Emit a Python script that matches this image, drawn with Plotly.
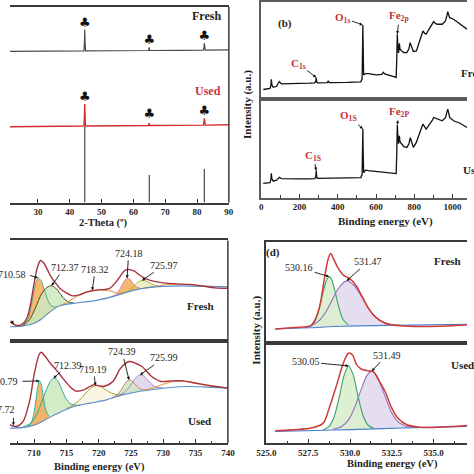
import plotly.graph_objects as go

W = H = 474
FONT = "Liberation Serif"
AXC = "#3a3a3a"
AXB = "#5c5c5c"
TXT = "#1e1e1e"
RED = "#c8323c"

# ---------------- (a) XRD ----------------
xrd_theta = [21.2, 30, 40, 44.45, 44.6, 44.7, 44.8, 44.95, 55, 64.75, 64.95, 65.15, 75, 82.0, 82.15, 82.3, 82.45, 82.6, 90]
xrd_fresh = [151.5, 151.7, 151.8, 152, 160, 173.5, 160, 152, 152.2, 152.4, 155.5, 152.4, 152.5, 152.7, 155.5, 159.5, 155.5, 152.7, 153]
xrd_used = [76, 76.2, 76.5, 76.7, 86, 98.7, 86, 76.7, 77, 77.2, 79.5, 77.2, 77.4, 77.6, 80.5, 84.3, 80.5, 77.6, 78]
ref_theta = [44.7, 65.0, 82.3]
ref_height = [76, 27.7, 33.7]
club_fresh = [179.3, 162, 166]
club_used = [104.7, 87.7, 91]

# ---------------- (b) XPS survey ----------------
sv_fresh_e = [10, 30, 45, 50, 52, 55, 62, 80, 94, 105, 150, 200, 250, 280, 285, 287, 290, 295, 345, 350, 355, 450, 520,
              527, 529, 531, 532, 535, 545, 560, 600, 630, 638, 645, 690, 705, 708, 711, 714, 717, 719, 722, 725, 733,
              745, 761, 772, 778, 786, 795, 811, 822, 837, 845, 855, 862, 875, 887, 901, 910, 921, 946, 963, 970, 975,
              980, 985, 1005, 1039, 1076]
sv_fresh_i = [9.8, 10.5, 10.8, 13.5, 20, 14.5, 12, 13, 17.8, 15.5, 15.5, 15.8, 16.2, 16.5, 18.5, 21.8, 17, 16.5, 16.8, 18.5,
              16.8, 17, 17.5, 20.5, 48.5, 74.5, 58.5, 24.5, 25.8, 25.8, 24.5, 25, 27, 25.5, 23, 22, 38.5, 65.2, 53.5, 46.5,
              48.5, 56, 50.5, 48.5, 46.8, 46.8, 50.5, 56.8, 51.5, 48, 48.5, 54.5, 63.5, 68.5, 66, 65.2, 69.5, 73.5, 77.8,
              76, 75.2, 75.2, 78.5, 83.5, 87.8, 84.5, 81.8, 80.2, 75.2, 70.2]
sv_used_e = [10, 30, 45, 50, 52, 55, 62, 80, 94, 105, 150, 200, 250, 280, 285, 287, 290, 295, 450, 520, 527, 529, 531, 532,
             535, 545, 560, 600, 650, 690, 705, 708, 711, 714, 717, 720, 722, 725, 733, 745, 761, 772, 779, 786, 795, 810,
             825, 837, 845, 862, 880, 893, 901, 921, 946, 963, 970, 975, 985, 1005, 1039, 1076]
sv_used_i = [14.3, 14.7, 15, 18, 24.3, 19, 16.5, 17.5, 20.3, 19, 18.7, 18.7, 18.8, 19, 21, 27, 20, 19.3, 19.8, 20, 23, 47,
             68.7, 52, 25, 27.5, 27, 26, 25, 24.3, 24, 42, 73, 62, 54, 57, 62, 56, 53.7, 51, 50.3, 54, 60, 55, 50.3, 55,
             63, 70.3, 73.7, 68.7, 73, 77, 80.3, 78.7, 77, 80, 85, 88.7, 80.3, 77, 74.5, 70.3]

# ---------------- (c) Fe 2p ----------------
c_bgF_x = [706.3, 708, 709, 710, 711, 712, 713, 714, 715, 716, 718, 720, 722, 724, 726, 728, 730, 733, 736, 740]
c_bgF_y = [14.5, 15, 16, 18, 21.5, 27, 32, 35.5, 37, 38, 39.5, 41.5, 44.5, 48.5, 52, 54, 55, 55.5, 55, 54.5]
c_envF_x = [706.3, 707.0, 707.8, 708.5, 709.0, 709.5, 710.0, 710.5, 711.0, 711.5, 712.0, 712.5, 713.0, 713.5, 714.0, 715.0,
            716.0, 717.0, 718.0, 719.0, 720.0, 721.0, 721.7, 722.5, 723.2, 723.8, 724.4, 725.0, 725.6, 726.2, 727.0,
            728.0, 729.0, 730.0, 732.0, 734.0, 736.0, 738.0, 740.0]
c_envF_y = [19.5, 16.5, 16, 19, 25, 39, 58, 74, 81, 78.5, 72.5, 66, 61, 57, 53, 48.5, 45.5, 46.5, 49, 50.5, 51.5, 52, 53,
            58, 64, 69.5, 72, 71.5, 70, 67, 63.5, 61, 59.5, 58.5, 57.5, 57, 55.5, 53.5, 53]
c_F0_x = [706.3, 706.8, 707.3, 707.8, 708.3]
c_F0_y = [19, 17.5, 15.8, 15.1, 15.1]
c_F1_x = [708.2, 709.0, 709.4, 709.8, 710.2, 710.6, 711.1, 711.6, 712.1, 712.6, 713.1, 713.6]
c_F1_y = [15.7, 21.9, 30.9, 44, 56.8, 63.6, 60.4, 51.2, 41.6, 35.9, 34.3, 34.6]
c_F2_x = [708.3, 709.3, 710.2, 711.2, 712.0, 712.7, 713.3, 714.0, 714.6, 715.3, 716.2]
c_F2_y = [15.5, 21.7, 33.3, 48, 54, 55.7, 53.5, 48, 43, 39.5, 38.2]
c_F3_x = [714.0, 715.0, 716.0, 717.0, 718.0, 719.0, 720.0, 721.0, 722.0, 723.0, 724.0]
c_F3_y = [35.8, 38.5, 42.5, 46.5, 49.5, 51, 51.5, 51, 50, 48, 48.7]
c_F4_x = [721.8, 722.6, 723.2, 723.7, 724.1, 724.4, 724.8, 725.3, 725.8, 726.5]
c_F4_y = [44.2, 46.8, 51.4, 57.4, 61.7, 63.2, 62.3, 58.2, 54.7, 52.9]
c_F5_x = [723.5, 724.5, 725.3, 726.0, 726.7, 727.4, 728.2, 729.0, 730.0]
c_F5_y = [47.6, 50.4, 54.5, 58.8, 61, 60.2, 57.5, 55.5, 55]
c_F6_x = [727, 729, 731, 733, 735, 737, 739, 740]
c_F6_y = [53.5, 55.3, 57, 57, 56.3, 55.2, 54.7, 54.6]

c_bgU_x = [706.3, 708.0, 709.3, 710.3, 711.25, 712.2, 713.2, 714.5, 716.2, 718.7, 721.2, 723.7, 726.2, 728.7, 731.2, 733.6, 736.1, 740]
c_bgU_y = [15, 15.5, 16.7, 18.5, 21.7, 25, 28.3, 32.5, 36.7, 40, 43.3, 48.3, 51.7, 54, 55.7, 56.7, 56.3, 55]
c_envU_x = [706.3, 707.3, 708.3, 709.3, 710.0, 710.75, 711.1, 711.7, 712.5, 713.2, 714.2, 715.5, 716.5, 717.7, 719.2,
            720.7, 722.2, 723.4, 724.7, 725.7, 726.7, 728.2, 729.7, 731.2, 733.1, 735.1, 737.1, 740]
c_envU_y = [18.3, 16.7, 21.7, 42, 68.3, 88.3, 91, 87, 80, 75, 67, 57, 52, 53.3, 58.3, 56.7, 61.7, 75, 81.7, 80, 76.7,
            66.7, 61.7, 62.3, 62.3, 60, 57.7, 55]
c_U0_x = [706.3, 706.8, 707.3, 707.8, 708.3]
c_U0_y = [17.8, 17, 16, 15.5, 15.6]
c_U1_x = [709.0, 709.5, 709.9, 710.3, 710.6, 710.85, 711.1, 711.4, 711.8, 712.3]
c_U1_y = [16.5, 19.3, 27.3, 44, 57.5, 62.3, 58.9, 47.8, 33.1, 26.6]
c_U2_x = [708.3, 709.3, 710.0, 710.7, 711.3, 711.9, 712.5, 713.0, 713.6, 714.2, 714.9, 715.6, 716.4, 717.2]
c_U2_y = [16.2, 19.3, 24.3, 33.2, 43.2, 53.5, 61.6, 65, 62.9, 54.9, 45, 39.5, 37.9, 38]
c_U3_x = [715.0, 716.0, 717.0, 718.0, 718.8, 719.5, 720.2, 721.0, 722.0, 723.0, 724.0]
c_U3_y = [34.3, 37.9, 42.9, 49.9, 55.3, 57.7, 57.2, 53.9, 49.9, 48.4, 49]
c_U4_x = [722.0, 722.8, 723.4, 723.9, 724.3, 724.7, 725.1, 725.6, 726.2, 727.0]
c_U4_y = [45.2, 48, 52.5, 57.8, 61.5, 63.3, 62.6, 59.3, 55.1, 53]
c_U5_x = [723.0, 724.0, 724.8, 725.5, 726.0, 726.4, 726.9, 727.5, 728.2, 729.0, 730.0]
c_U5_y = [47.3, 51.1, 56.7, 63.4, 67.1, 68.3, 67.4, 63.8, 59, 55.9, 55.2]
c_U6_x = [727.0, 728.5, 730.0, 731.5, 733.0, 734.5, 736.0, 738.0, 740.0]
c_U6_y = [53, 55.5, 59, 61.5, 62, 60.5, 58.5, 56.5, 55.3]

# ---------------- (d) O 1s ----------------
d_envF_x = [525.54, 526.7, 527.65, 527.9, 528.2, 528.5, 528.7, 528.85, 529.0, 529.3, 529.6, 529.96, 530.35, 530.73,
            531.1, 531.5, 532.1, 532.85, 534.4, 537]
d_envF_y = [14.3, 15.7, 17.7, 23.3, 38.3, 68.3, 85, 90, 85, 75, 68.3, 65, 58.3, 46.7, 35, 26.7, 20, 17.7, 16.7, 18.3]
d_bgF_x = [525.5, 527.5, 529.5, 531.5, 533.5, 537]
d_bgF_y = [14.3, 15.5, 17, 17.7, 18.2, 19]
d_gF_x = [527.6, 527.9, 528.15, 528.4, 528.6, 528.75, 528.9, 529.1, 529.35, 529.6, 529.9]
d_gF_y = [16.7, 22.2, 34.1, 51.7, 63.6, 66.8, 63.8, 52.1, 34.9, 23.3, 18.4]
d_pF_x = [527.3, 527.6, 528.1, 528.5, 528.9, 529.3, 529.8, 530.3, 530.8, 531.3, 531.8, 532.4, 533.0]
d_pF_y = [15.4, 17.1, 21.9, 30.1, 42.3, 54.9, 62.5, 56.9, 43.6, 30.7, 22.7, 19, 18.1]

d_envU_x = [525.54, 527.65, 528.4, 528.75, 529.2, 529.6, 529.9, 530.15, 530.4, 530.7, 531.1, 531.4, 531.65, 532.1,
            532.45, 532.85, 533.4, 534.4, 537]
d_envU_y = [12.3, 15, 20, 35, 58.3, 80, 90, 88.3, 78.3, 74, 72.3, 71.7, 65, 51.7, 36.7, 25, 18.3, 15.7, 17.7]
d_bgU_x = [525.5, 528, 530, 532, 534, 537]
d_bgU_y = [11.7, 12.6, 13.5, 14.5, 15.5, 16.7]
d_gU_x = [528.4, 528.75, 529.05, 529.35, 529.65, 529.92, 530.2, 530.5, 530.8, 531.1, 531.45]
d_gU_y = [13.3, 16.7, 26.3, 45.6, 68.1, 77.3, 67.8, 45.3, 26.7, 17.6, 14.7]
d_pU_x = [529.0, 529.5, 529.9, 530.3, 530.7, 531.0, 531.3, 531.6, 532.0, 532.4, 532.8, 533.3, 533.9]
d_pU_y = [13.9, 16.5, 23, 36.6, 55.3, 67.3, 72.1, 67.6, 51.3, 33.7, 22.4, 17, 15.9]


# ---------------- geometry of the panels ----------------
def px(x):
    return x / W


def py(y):
    return 1 - y / H


AX = {
    "x": ([0, px(227)], [21.2, 90]),
    "y": ([py(202), py(6)], [0, 196]),
    "x2": ([px(260.7), 1], [0, 1075.6]),
    "y2": ([py(98.5), py(1.2)], [0, 97.3]),
    "x3": ([px(260.7), 1], [0, 1075.6]),
    "y3": ([py(197), py(98.5)], [0, 98.5]),
    "x4": ([0, px(226)], [706.27, 740]),
    "y4": ([py(341), py(240)], [0, 101]),
    "x5": ([0, px(226)], [706.27, 740]),
    "y5": ([py(443), py(341)], [0, 102]),
    "x6": ([px(266), 1], [525, 537]),
    "y6": ([py(343), py(242)], [0, 101]),
    "x7": ([px(266), 1], [525, 537]),
    "y7": ([py(443), py(343)], [0, 100]),
}

fig = go.Figure()


def line(x, y, xa, ya, color, width=1.2, shape="linear"):
    fig.add_trace(go.Scatter(x=x, y=y, xaxis=xa, yaxis=ya, mode="lines",
                             line=dict(color=color, width=width, shape=shape, smoothing=0.8),
                             hoverinfo="skip", showlegend=False))


def band(xc, yc, xb, yb, xa, ya, color):
    lo, hi = xc[0], xc[-1]
    inner = [(a, b) for a, b in zip(xb, yb) if lo < a < hi]
    xs = list(xc) + [p[0] for p in reversed(inner)]
    ys = list(yc) + [p[1] for p in reversed(inner)]
    fig.add_trace(go.Scatter(x=xs, y=ys, xaxis=xa, yaxis=ya, mode="lines", fill="toself", fillcolor=color,
                             line=dict(width=0, shape="spline", smoothing=0.6),
                             hoverinfo="skip", showlegend=False))


# (a)
sx, sy = [], []
for t, h in zip(ref_theta, ref_height):
    sx += [t, t, None]
    sy += [0, h, None]
line(sx, sy, "x", "y", "#555555", 1.3)
line(xrd_theta, xrd_fresh, "x", "y", "#4a4a4a", 1.2)
line(xrd_theta, xrd_used, "x", "y", "#d42a30", 1.4)
for vals in (club_fresh, club_used):
    fig.add_trace(go.Scatter(x=ref_theta, y=vals, xaxis="x", yaxis="y", mode="text", text=["♣"] * 3,
                             textfont=dict(family="DejaVu Sans", size=13, color="#111111"),
                             hoverinfo="skip", showlegend=False))

# (b)
line(sv_fresh_e, sv_fresh_i, "x2", "y2", "#111111", 1.3)
line(sv_used_e, sv_used_i, "x3", "y3", "#111111", 1.3)

# (c) fresh
ORF = "rgba(244,170,85,0.85)"
GRF = "rgba(205,232,190,0.85)"
YLF = "rgba(232,236,190,0.85)"
PUF = "rgba(222,210,236,0.85)"
band(c_F1_x, c_F1_y, c_bgF_x, c_bgF_y, "x4", "y4", ORF)
band(c_F2_x, c_F2_y, c_bgF_x, c_bgF_y, "x4", "y4", GRF)
band(c_F5_x, c_F5_y, c_bgF_x, c_bgF_y, "x4", "y4", YLF)
band(c_F4_x, c_F4_y, c_bgF_x, c_bgF_y, "x4", "y4", ORF)
line(c_F0_x, c_F0_y, "x4", "y4", "#3a6ea0", 1, "spline")
line(c_F1_x, c_F1_y, "x4", "y4", "#5aa88a", 1, "spline")
line(c_F2_x, c_F2_y, "x4", "y4", "#4a4a2a", 1, "spline")
line(c_F3_x, c_F3_y, "x4", "y4", "#d9913a", 1, "spline")
line(c_F4_x, c_F4_y, "x4", "y4", "#d58ab8", 1, "spline")
line(c_F5_x, c_F5_y, "x4", "y4", "#b5b340", 1, "spline")
line(c_F6_x, c_F6_y, "x4", "y4", "#e0903a", 1, "spline")
line(c_bgF_x, c_bgF_y, "x4", "y4", "#5b8fc8", 1.1, "spline")
line(c_envF_x, c_envF_y, "x4", "y4", "#a8323e", 1.4, "spline")
# (c) used
band(c_U2_x, c_U2_y, c_bgU_x, c_bgU_y, "x5", "y5", GRF)
band(c_U1_x, c_U1_y, c_bgU_x, c_bgU_y, "x5", "y5", ORF)
band(c_U3_x, c_U3_y, c_bgU_x, c_bgU_y, "x5", "y5", "rgba(248,244,222,0.8)")
band(c_U5_x, c_U5_y, c_bgU_x, c_bgU_y, "x5", "y5", PUF)
band(c_U4_x, c_U4_y, c_bgU_x, c_bgU_y, "x5", "y5", GRF)
line(c_U0_x, c_U0_y, "x5", "y5", "#3a6ea0", 1, "spline")
line(c_U1_x, c_U1_y, "x5", "y5", "#2cb5a5", 1, "spline")
line(c_U2_x, c_U2_y, "x5", "y5", "#2aa890", 1, "spline")
line(c_U3_x, c_U3_y, "x5", "y5", "#a8a030", 1, "spline")
line(c_U4_x, c_U4_y, "x5", "y5", "#d07a6a", 1, "spline")
line(c_U5_x, c_U5_y, "x5", "y5", "#a486c8", 1, "spline")
line(c_U6_x, c_U6_y, "x5", "y5", "#e39040", 1, "spline")
line(c_bgU_x, c_bgU_y, "x5", "y5", "#5b8fc8", 1.1, "spline")
line(c_envU_x, c_envU_y, "x5", "y5", "#a8323e", 1.4, "spline")

# (d)
DGF = "rgba(218,238,205,0.9)"
DPF = "rgba(226,218,238,0.9)"
for (gx, gy, qx, qy, bx, by, ex, ey, xa, ya) in (
        (d_gF_x, d_gF_y, d_pF_x, d_pF_y, d_bgF_x, d_bgF_y, d_envF_x, d_envF_y, "x6", "y6"),
        (d_gU_x, d_gU_y, d_pU_x, d_pU_y, d_bgU_x, d_bgU_y, d_envU_x, d_envU_y, "x7", "y7")):
    band(qx, qy, bx, by, xa, ya, DPF)
    band(gx, gy, bx, by, xa, ya, DGF)
    line(qx, qy, xa, ya, "#9070b8", 1.1, "spline")
    line(gx, gy, xa, ya, "#3d9e6a", 1.1, "spline")
    line(bx, by, xa, ya, "#4a7fd0", 1.1, "spline")
    line(ex, ey, xa, ya, "#d03a36", 1.5, "spline")


# ---------------- axes ----------------
def xax(name, anchor, labels=True, dtick=None, tick0=None, minor=None, fmt=None, color=AXC, lw=1.5):
    dom, rng = AX[name]
    d = dict(domain=dom, range=rng, anchor=anchor, showline=True, mirror=True, linecolor=color, linewidth=lw,
             showgrid=False, zeroline=False, fixedrange=True)
    if labels:
        d.update(ticks="inside", ticklen=4, tickwidth=1, tickcolor=AXC, dtick=dtick, tick0=tick0,
                 tickfont=dict(family=FONT, size=9, color=TXT, weight="bold"))
        if fmt:
            d["tickformat"] = fmt
        if minor:
            d["minor"] = dict(dtick=minor, ticks="inside", ticklen=2.5, tickwidth=1, tickcolor=AXC, showgrid=False)
    else:
        d.update(showticklabels=False, ticks="")
    return d


def yax(name, anchor, left, color=AXC, lw=1.5):
    dom, rng = AX[name]
    return dict(domain=dom, range=rng, anchor=anchor, showline=left, mirror=False, linecolor=color, linewidth=lw,
                showticklabels=False, ticks="", showgrid=False, zeroline=False, fixedrange=True)


fig.update_layout(
    width=W, height=H, margin=dict(l=0, r=0, t=0, b=0), paper_bgcolor="white", plot_bgcolor="white",
    showlegend=False,
    xaxis=xax("x", "y", True, 10, 30),
    yaxis=yax("y", "x", False),
    xaxis2=xax("x2", "y2", False, color=AXB, lw=2),
    yaxis2=yax("y2", "x2", True, AXB, 2),
    xaxis3=xax("x3", "y3", True, 200, 0, 100, color=AXB, lw=2),
    yaxis3=yax("y3", "x3", True, AXB, 2),
    xaxis4=xax("x4", "y4", False),
    yaxis4=yax("y4", "x4", False),
    xaxis5=xax("x5", "y5", True, 5, 710, 2.5),
    yaxis5=yax("y5", "x5", False),
    xaxis6=xax("x6", "y6", False),
    yaxis6=yax("y6", "x6", True),
    xaxis7=xax("x7", "y7", True, 2.5, 525, 1.25, ".1f"),
    yaxis7=yax("y7", "x7", True),
)

# right frame edges for (a) and (c)
for xr, yr in (("x", "y"), ("x4", "y4"), ("x5", "y5")):
    fig.add_shape(type="line", xref=xr + " domain", yref=yr + " domain", x0=1, x1=1, y0=0, y1=1,
                  line=dict(color=AXC, width=1.5))

# ---------------- text ----------------
ann = []


def to_paper(xa, ya, x, y):
    (dx, rx), (dy, ry) = AX[xa], AX[ya]
    fx = dx[0] + (x - rx[0]) / (rx[1] - rx[0]) * (dx[1] - dx[0])
    fy = dy[0] + (y - ry[0]) / (ry[1] - ry[0]) * (dy[1] - dy[0])
    return fx, fy


def label(text, x, y, size=11, color=TXT, bold=True, xanchor="center", angle=0):
    ann.append(dict(text=text, xref="paper", yref="paper", x=px(x), y=py(y), showarrow=False,
                    xanchor=xanchor, yanchor="middle", textangle=angle,
                    font=dict(family=FONT, size=size, color=color, weight="bold" if bold else "normal")))


def pointer(text, xa, ya, x, y, ax, ay, size=10, color=TXT, bold=False, acolor="#111111"):
    fx, fy = to_paper(xa, ya, x, y)
    ann.append(dict(text=text, xref="paper", yref="paper", x=fx, y=fy, ax=ax, ay=ay, showarrow=True,
                    arrowhead=2, arrowsize=0.7, arrowwidth=0.9, arrowcolor=acolor, standoff=0,
                    font=dict(family=FONT, size=size, color=color, weight="bold" if bold else "normal")))


# (a)
label("Fresh", 204, 15, 12)
label("Used", 205, 90, 12, RED)
label("2-Theta (º)", 97, 222, 10.5)
# (b)
label("(b)", 285, 23, 11)
label("Fresh", 466, 72, 11, xanchor="left")
label("Used", 468, 169, 11, xanchor="left")
label("Binding energy (eV)", 389, 221, 11)
label("Intensity (a.u.)", 247, 104, 11, angle=-90)
pointer("O<sub>1s</sub>", "x2", "y2", 531, 74.5, -20, -7, 11, RED, True)
pointer("Fe<sub>2p</sub>", "x2", "y2", 711, 65.2, 2, -18, 11, RED, True)
pointer("C<sub>1s</sub>", "x2", "y2", 287, 21.8, -18, -14, 11, RED, True)
pointer("O<sub>1S</sub>", "x3", "y3", 531, 68.7, -14, -13, 11, RED, True)
pointer("Fe<sub>2P</sub>", "x3", "y3", 711, 73, 2, -13, 11, RED, True)
pointer("C<sub>1S</sub>", "x3", "y3", 287, 27, -3, -15, 11, RED, True)
# (c)
label("Fresh", 198, 306, 11)
label("Used", 197, 421, 11)
label("Binding energy (eV)", 92.5, 467, 10.5)
# labels cut by the left edge of the picture: text and arrow drawn separately
label("710.58", 18.5, 274.5, 10, bold=False, xanchor="right")
pointer(" ", "x4", "y4", 710.6, 63.6, -10, -3, 2)
pointer(" ", "x4", "y4", 706.85, 17.3, -4, -6, 2)
label("710.79", 10.5, 381.3, 10, bold=False, xanchor="right")
pointer(" ", "x5", "y5", 710.85, 62.3, -19, 0.5, 2)
label("707.72", 7, 409.5, 10, bold=False, xanchor="right")
pointer(" ", "x5", "y5", 706.8, 17.8, 0, -10, 2)
pointer("712.37", "x4", "y4", 712.7, 55.7, 13, -18)
pointer("718.32", "x4", "y4", 719.0, 51, 3, -21)
pointer("724.18", "x4", "y4", 724.4, 63.2, 1.5, -25)
pointer("725.97", "x4", "y4", 726.7, 61, 22, -15)
pointer("712.39", "x5", "y5", 713.0, 65, 15, -13)
pointer("719.19", "x5", "y5", 719.5, 57.7, -2, -16)
pointer("724.39", "x5", "y5", 724.7, 63.3, -7, -28)
pointer("725.99", "x5", "y5", 726.4, 68.3, 24, -17)
# (d)
label("(d)", 273, 252, 11)
label("Fresh", 454, 261, 11)
label("Used", 455, 365, 11, xanchor="left")
label("Binding energy (eV)", 397, 464, 10.5)
label("Intensity (a.u.)", 255.5, 330, 11, angle=-90)
pointer("530.16", "x6", "y6", 528.75, 66.8, -30, -9)
pointer("531.47", "x6", "y6", 529.8, 62.5, 21, -19)
pointer("530.05", "x7", "y7", 529.92, 77.3, -43, -4)
pointer("531.49", "x7", "y7", 531.3, 72.1, 15, -16)

fig.update_layout(annotations=ann)
fig.write_html("out.html")
